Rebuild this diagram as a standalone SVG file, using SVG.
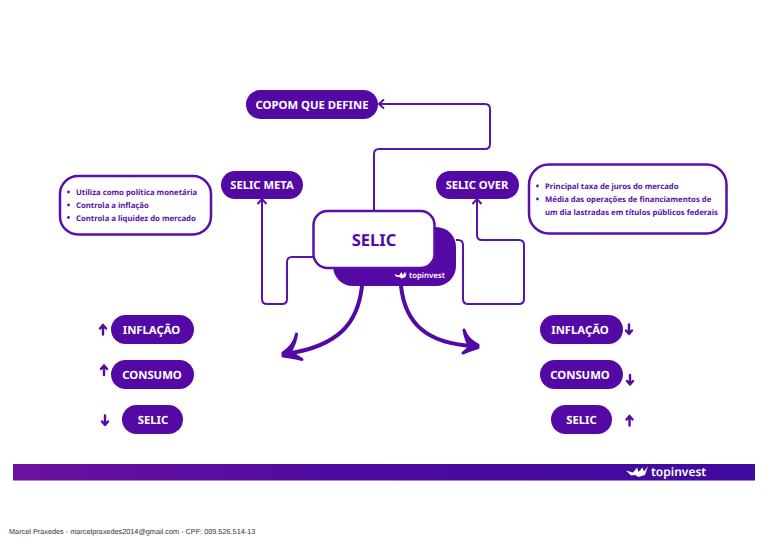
<svg xmlns="http://www.w3.org/2000/svg" width="768" height="543" viewBox="0 0 768 543">
<style>
text{text-rendering:geometricPrecision}
.pill{fill:#5409a5}
.pt{font-family:"Noto Sans","Open Sans",sans-serif;font-weight:700;fill:#fff;text-anchor:middle}
.box{fill:#fff;stroke:#5a0fab;stroke-width:2.5}
.bt{font-family:"Noto Sans","Open Sans",sans-serif;font-weight:700;fill:#5a12a8;font-size:7.75px}
.conn{fill:none;stroke:#5a12ad;stroke-width:2;stroke-linejoin:round}
.big{fill:none;stroke:#5409a5;stroke-width:4;stroke-linecap:round;stroke-linejoin:round}
.head{fill:#5409a5;stroke:#5409a5;stroke-width:3;stroke-linejoin:round}
.ar{fill:none;stroke:#5409a5;stroke-width:2.400;stroke-linecap:round;stroke-linejoin:round}
.logo{font-family:"Noto Sans","Open Sans",sans-serif;font-weight:600;fill:#fff}
</style>
<defs>
<linearGradient id="band" x1="0" x2="1" y1="0" y2="0"><stop offset="0" stop-color="#6c11a0"/><stop offset="0.45" stop-color="#4f0aa0"/><stop offset="1" stop-color="#3f0a9e"/></linearGradient>
<marker id="head" markerUnits="userSpaceOnUse" markerWidth="12" markerHeight="12" refX="9" refY="6" orient="auto"><path d="M4,1.500 L9,6 L4,10.500" fill="none" stroke="#5a12ad" stroke-width="2"/></marker>
<path id="up" class="ar" d="M0,5 V-4.500 M-3,-1 L0,-4.500 L3,-1"/>
<path id="down" class="ar" d="M0,-5 V4.500 M-3,1 L0,4.500 L3,1"/>
</defs>
<rect width="768" height="543" fill="#fff"/>
<g id="connectors">
<path class="conn" marker-end="url(#head)" d="M374,212 V154 Q374,149 379,149 H485 Q490,149 490,144 V109 Q490,104 485,104 H379"/>
<path class="conn" marker-end="url(#head)" d="M313,257 H292 Q287,257 287,262 V299 Q287,304 282,304 H267 Q262,304 262,299 V199"/>
<path class="conn" marker-end="url(#head)" d="M456,240 H458 Q463,240 463,245 V299 Q463,304 468,304 H519 Q524,304 524,299 V245 Q524,240 519,240 H482 Q477,240 477,235 V199"/>
<path class="big" d="M362,286 C358,322 340,346 286,354"/>
<path class="head" d="M296.500,334 C295,342 289,349 283,353 L283,356 C289,357 296,358 302,359.500 C297,356 293,354 290,352.500 C293,347 296,341 296.500,334 Z"/>
<path class="big" d="M401,286 C405,322 425,344 475,346"/>
<path class="head" d="M464,330 C466,336 472,342 478,345 L478,347.500 C473,349 468,351 463,353 C466,351 468,349 470,346.500 C467,342 465,336 464,330 Z"/>
</g>
<g id="node-selic">
<rect x="333" y="227" width="123" height="59" rx="20" class="pill"/>
<rect x="313.500" y="211" width="121" height="57" rx="14" class="box"/>
<text x="374" y="246" font-size="16.500" class="pt" style="fill:#5409a5">SELIC</text>
<path d="M394,274 L399,275.500 L401.500,272 L402.500,275 L405,272 L406,274.500 L407.500,270.500 L405.500,277 L401.500,278.500 L399.500,277 L396.500,277 Z" fill="#fff"/>
<text x="409" y="278" font-size="7.800" class="logo">topinvest</text>
</g>
<g id="node-copom"><rect x="246" y="90" width="132" height="29" rx="14.500" class="pill"/><text x="312" y="109" font-size="11.300" class="pt">COPOM QUE DEFINE</text></g>
<g id="node-meta"><rect x="221" y="171" width="82" height="28" rx="14" class="pill"/><text x="262" y="189" font-size="11.200" class="pt">SELIC META</text></g>
<g id="node-over"><rect x="436" y="171" width="83" height="28" rx="14" class="pill"/><text x="477" y="189" font-size="11.200" class="pt">SELIC OVER</text></g>
<g id="node-meta-info">
<rect x="60" y="176" width="151" height="58.500" rx="18" class="box"/>
<circle cx="68.500" cy="192" r="1.400" fill="#5a12a8"/><circle cx="68.500" cy="205" r="1.400" fill="#5a12a8"/><circle cx="68.500" cy="217.500" r="1.400" fill="#5a12a8"/>
<text x="76" y="195" class="bt">Utiliza como política monetária</text>
<text x="76" y="208" class="bt">Controla a inflação</text>
<text x="76" y="220.500" class="bt">Controla a liquidez do mercado</text>
</g>
<g id="node-over-info">
<rect x="529" y="164.500" width="197.500" height="69" rx="20" class="box"/>
<circle cx="537.500" cy="186" r="1.400" fill="#5a12a8"/><circle cx="537.500" cy="199" r="1.400" fill="#5a12a8"/>
<text x="545" y="189" class="bt">Principal taxa de juros do mercado</text>
<text x="545" y="202" class="bt">Média das operações de financiamentos de</text>
<text x="545" y="215" class="bt">um dia lastradas em títulos públicos federais</text>
</g>
<g id="node-l-inflacao"><rect x="111" y="315" width="83" height="29" rx="14.500" class="pill"/><text x="151.500" y="334" font-size="11.300" class="pt">INFLAÇÃO</text><use href="#up" x="103" y="329.500"/></g>
<g id="node-l-consumo"><rect x="111" y="360" width="83" height="29" rx="14.500" class="pill"/><text x="152" y="379" font-size="11.300" class="pt">CONSUMO</text><use href="#up" x="104" y="370"/></g>
<g id="node-l-selic"><rect x="122" y="405" width="61" height="29" rx="14.500" class="pill"/><text x="153" y="424" font-size="11.300" class="pt">SELIC</text><use href="#down" x="105" y="420.500"/></g>
<g id="node-r-inflacao"><rect x="540" y="315" width="83" height="29" rx="14.500" class="pill"/><text x="580" y="334" font-size="11.300" class="pt">INFLAÇÃO</text><use href="#down" x="629" y="329.500"/></g>
<g id="node-r-consumo"><rect x="540" y="360" width="83" height="29" rx="14.500" class="pill"/><text x="580" y="379" font-size="11.300" class="pt">CONSUMO</text><use href="#down" x="630" y="380"/></g>
<g id="node-r-selic"><rect x="551" y="405" width="61" height="29" rx="14.500" class="pill"/><text x="581.500" y="424" font-size="11.300" class="pt">SELIC</text><use href="#up" x="629.500" y="420.500"/></g>
<g id="footer-band">
<rect x="13" y="464" width="742" height="16.500" fill="url(#band)"/>
<path d="M626,470.500 L633,472.500 L637,467.500 L638.500,472 L642.500,467.500 L644,471.500 L648,466 L645,475 L638.500,477 L635,475 L631,475.500 Z" fill="#fff"/>
<text x="651" y="476" font-size="12" class="logo">topinvest</text>
</g>
<text x="9" y="534" font-family="Liberation Sans, Arial, sans-serif" font-size="7.300" fill="#333">Marcel Praxedes - marcelpraxedes2014@gmail.com - CPF: 089.526.514-13</text>
</svg>
